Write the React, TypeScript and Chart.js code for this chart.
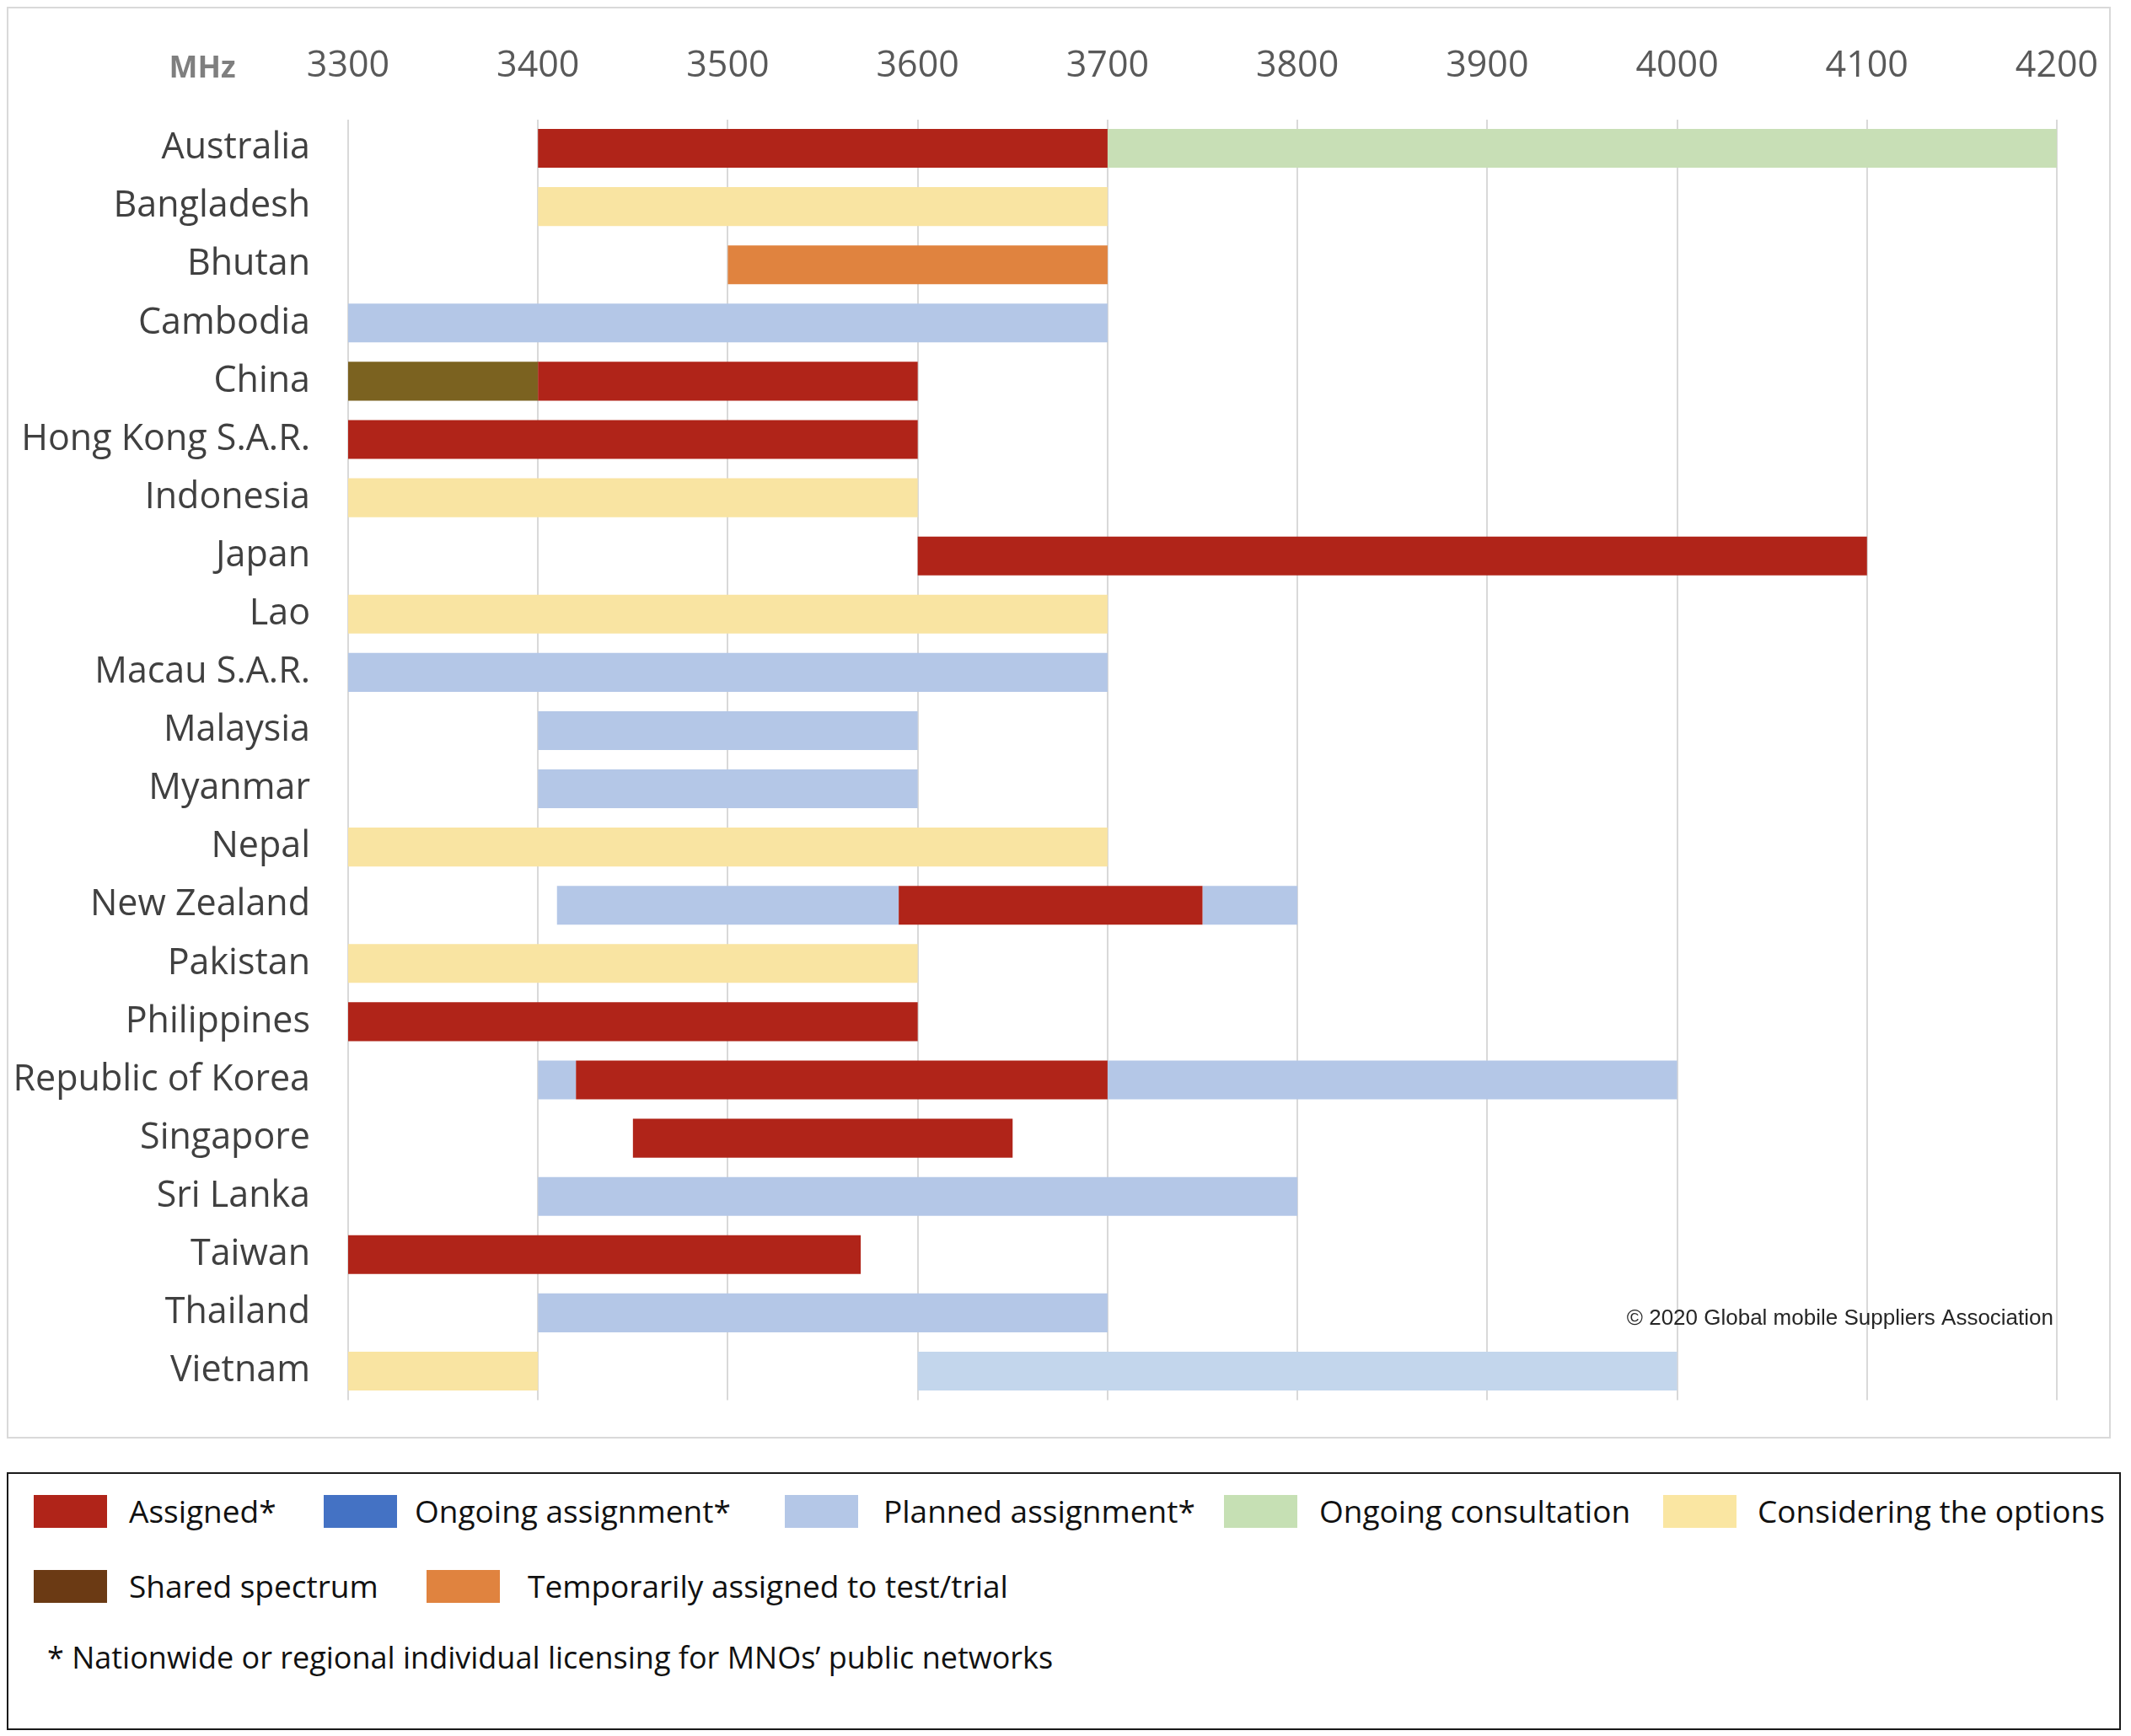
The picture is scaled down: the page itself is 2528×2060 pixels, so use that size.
import React, { useEffect, useRef } from "react";
import { Chart, registerables } from "chart.js";

Chart.register(...registerables);

type Span = [number, number] | null;

const countries = [
  "Australia", "Bangladesh", "Bhutan", "Cambodia", "China", "Hong Kong S.A.R.",
  "Indonesia", "Japan", "Lao", "Macau S.A.R.", "Malaysia", "Myanmar", "Nepal",
  "New Zealand", "Pakistan", "Philippines", "Republic of Korea", "Singapore",
  "Sri Lanka", "Taiwan", "Thailand", "Vietnam",
];

const axisMin = 3300;
const axisMax = 4200;
const axisStep = 100;

// index order follows countries
const assigned: Span[] = [
  [3400, 3700], null, null, null, [3400, 3600], [3300, 3600],
  null, [3600, 4100], null, null, null, null, null,
  [3590, 3750], null, [3300, 3600], [3420, 3700], [3450, 3650],
  null, [3300, 3570], null, null,
];

const plannedMain: Span[] = [
  null, null, null, [3300, 3700], null, null,
  null, null, null, [3300, 3700], [3400, 3600], [3400, 3600], null,
  [3410, 3590], null, null, [3400, 3420], null,
  [3400, 3800], null, [3400, 3700], null,
];

const plannedUpper: Span[] = [
  null, null, null, null, null, null,
  null, null, null, null, null, null, null,
  [3750, 3800], null, null, [3700, 4000], null,
  null, null, null, null,
];

const plannedLight: Span[] = [
  null, null, null, null, null, null,
  null, null, null, null, null, null, null,
  null, null, null, null, null,
  null, null, null, [3600, 4000],
];

const consultation: Span[] = [
  [3700, 4200], null, null, null, null, null,
  null, null, null, null, null, null, null,
  null, null, null, null, null,
  null, null, null, null,
];

const considering: Span[] = [
  null, [3400, 3700], null, null, null, null,
  [3300, 3600], null, [3300, 3700], null, null, null, [3300, 3700],
  null, [3300, 3600], null, null, null,
  null, null, null, [3300, 3400],
];

const shared: Span[] = [
  null, null, null, null, [3300, 3400], null,
  null, null, null, null, null, null, null,
  null, null, null, null, null,
  null, null, null, null,
];

const trial: Span[] = [
  null, null, [3500, 3700], null, null, null,
  null, null, null, null, null, null, null,
  null, null, null, null, null,
  null, null, null, null,
];

const legendRow1 = [
  { label: "Assigned*", color: "#B02419" },
  { label: "Ongoing assignment*", color: "#4472C4" },
  { label: "Planned assignment*", color: "#B4C7E7" },
  { label: "Ongoing consultation", color: "#C6E0B4" },
  { label: "Considering the options", color: "#FAE6A2" },
];
const legendRow2 = [
  { label: "Shared spectrum", color: "#6B3A14" },
  { label: "Temporarily assigned to test/trial", color: "#E0833F" },
];
const footnote = "* Nationwide or regional individual licensing for MNOs’ public networks";
const copyright = "© 2020 Global mobile Suppliers Association";
const unitLabel = "MHz";

const row1Swatch = [40, 384, 931, 1452, 1973];
const row1Text = [153, 492, 1048, 1565, 2085];
const row2Swatch = [40, 506];
const row2Text = [153, 626];

const extraText = {
  id: "extraText",
  afterDraw(chart: any) {
    const ctx = chart.ctx as CanvasRenderingContext2D;
    const area = chart.chartArea;
    ctx.save();
    ctx.font = "700 36px 'Open Sans'";
    ctx.fillStyle = "#7F7F7F";
    ctx.textAlign = "center";
    ctx.textBaseline = "middle";
    ctx.fillText(unitLabel, area.left - 173, 72);
    ctx.font = "26px 'Liberation Sans'";
    ctx.fillStyle = "#262626";
    ctx.textAlign = "right";
    ctx.fillText(copyright, area.right - 4, 1555);
    ctx.restore();
  },
};

export default function App() {
  const canvasRef = useRef<HTMLCanvasElement | null>(null);

  useEffect(() => {
    if (!canvasRef.current) return;
    const mk = (label: string, data: Span[], color: string) => ({
      label,
      data: data as any,
      backgroundColor: color,
      borderWidth: 0,
      grouped: false,
      categoryPercentage: 0.667,
      barPercentage: 1.0,
    });
    const chart = new Chart(canvasRef.current, {
      type: "bar",
      data: {
        labels: countries,
        datasets: [
          mk("Assigned*", assigned, "#B02419"),
          mk("Planned assignment*", plannedMain, "#B4C7E7"),
          mk("Planned assignment* (upper)", plannedUpper, "#B4C7E7"),
          mk("Planned assignment* (light)", plannedLight, "#C3D6EC"),
          mk("Ongoing consultation", consultation, "#C8DFB6"),
          mk("Considering the options", considering, "#F9E4A2"),
          mk("Shared spectrum", shared, "#7B6220"),
          mk("Temporarily assigned to test/trial", trial, "#E0833F"),
        ] as any,
      },
      options: {
        indexAxis: "y",
        animation: false,
        responsive: false,
        maintainAspectRatio: false,
        layout: { padding: { left: 0, right: 62, top: 0, bottom: 43.5 } },
        plugins: {
          legend: { display: false },
          tooltip: { enabled: false },
        },
        scales: {
          x: {
            type: "linear",
            position: "top",
            min: axisMin,
            max: axisMax,
            ticks: {
              stepSize: axisStep,
              color: "#595959",
              font: { family: "'Open Sans'", size: 43 },
              padding: 0,
              callback: (v: any) => String(v),
            },
            grid: {
              color: "#D9D9D9",
              lineWidth: 2,
              drawTicks: true,
              tickLength: 37,
              tickColor: "rgba(0,0,0,0)",
            },
            border: { display: false },
            afterFit: (scale: any) => {
              scale.height = 131.5;
            },
          },
          y: {
            type: "category",
            grid: {
              display: true,
              drawOnChartArea: false,
              drawTicks: true,
              tickLength: 45,
              tickColor: "rgba(0,0,0,0)",
            },
            border: { display: false },
            ticks: {
              color: "#404040",
              font: { family: "'Open Sans'", size: 43 },
              padding: 0,
              autoSkip: false,
            },
            afterFit: (scale: any) => {
              scale.width = 403;
            },
          },
        },
      } as any,
      plugins: [extraText],
    });
    return () => chart.destroy();
  }, []);

  const textStyle: React.CSSProperties = {
    position: "absolute",
    fontFamily: "'Open Sans'",
    fontSize: 37,
    color: "#111",
    lineHeight: "40px",
    whiteSpace: "nowrap",
  };

  return (
    <div style={{ position: "relative", width: 2508, fontFamily: "'Open Sans'" }}>
      <div
        style={{
          width: 2496,
          height: 1699,
          border: "2px solid #D9D9D9",
          boxSizing: "border-box",
          background: "#fff",
        }}
      >
        <canvas ref={canvasRef} width={2492} height={1695} style={{ display: "block", width: 2492, height: 1695 }} />
      </div>
      <div
        style={{
          position: "relative",
          marginTop: 40,
          width: 2508,
          height: 306,
          border: "2px solid #1a1a1a",
          boxSizing: "border-box",
          background: "#fff",
        }}
      >
        {legendRow1.map((it, i) => (
          <React.Fragment key={it.label}>
            <div style={{ position: "absolute", left: row1Swatch[i] - 10, top: 25, width: 87, height: 39, background: it.color }} />
            <div style={{ ...textStyle, left: row1Text[i] - 10, top: 24 }}>{it.label}</div>
          </React.Fragment>
        ))}
        {legendRow2.map((it, i) => (
          <React.Fragment key={it.label}>
            <div style={{ position: "absolute", left: row2Swatch[i] - 10, top: 114, width: 87, height: 39, background: it.color }} />
            <div style={{ ...textStyle, left: row2Text[i] - 10, top: 113 }}>{it.label}</div>
          </React.Fragment>
        ))}
        <div style={{ ...textStyle, fontSize: 36, left: 46, top: 198 }}>{footnote}</div>
      </div>
    </div>
  );
}
